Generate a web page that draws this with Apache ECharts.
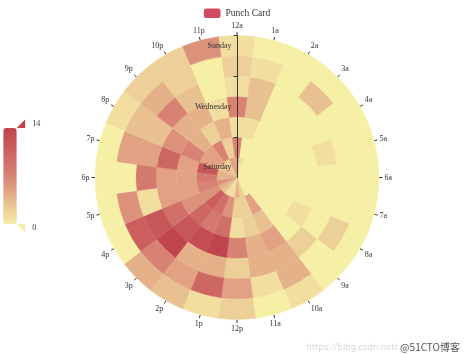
<!DOCTYPE html>
<html>
<head>
<meta charset="utf-8">
<title>Punch Card</title>
<style>
  html, body { margin: 0; padding: 0; background: #fff; }
  #main { width: 474px; height: 355px; }
</style>
<script src="https://cdn.jsdelivr.net/npm/echarts@6/dist/echarts.min.js"></script>
</head>
<body>
<div id="main"></div>
<script>
const hours = [
  '12a', '1a', '2a', '3a', '4a', '5a', '6a',
  '7a', '8a', '9a', '10a', '11a',
  '12p', '1p', '2p', '3p', '4p', '5p',
  '6p', '7p', '8p', '9p', '10p', '11p'
]
const days = [
  'Saturday', 'Friday', 'Thursday',
  'Wednesday', 'Tuesday', 'Monday', 'Sunday'
]
// one row per day (same order as days), one value per hour
const saturday = [5, 1, 0, 0, 0, 0, 0, 0, 0, 0, 0, 2, 4, 1, 1, 3, 4, 6, 4, 4, 3, 3, 2, 5]
const friday = [7, 0, 0, 0, 0, 0, 0, 0, 0, 0, 5, 2, 2, 6, 9, 11, 6, 7, 8, 12, 5, 5, 7, 2]
const thursday = [1, 1, 0, 0, 0, 0, 0, 0, 0, 0, 3, 2, 1, 9, 8, 10, 6, 5, 5, 5, 7, 4, 2, 4]
const wednesday = [7, 3, 0, 0, 0, 0, 0, 0, 1, 0, 5, 4, 7, 14, 13, 12, 9, 5, 5, 10, 6, 4, 4, 1]
const tuesday = [1, 3, 0, 0, 0, 1, 0, 0, 0, 2, 4, 4, 2, 4, 4, 14, 12, 1, 8, 5, 3, 7, 3, 0]
const monday = [2, 1, 0, 3, 0, 0, 0, 0, 2, 0, 4, 1, 5, 10, 5, 7, 11, 6, 0, 5, 3, 4, 2, 0]
const sunday = [1, 0, 0, 0, 0, 0, 0, 0, 0, 0, 1, 0, 2, 1, 3, 4, 0, 0, 0, 0, 1, 2, 2, 6]
const rows = [saturday, friday, thursday, wednesday, tuesday, monday, sunday]
const scaleColors = ['#f6efa6', '#d88273', '#bf444c']

// [day (radius), hour (angle), value]
const cells = []
rows.forEach((row, d) => row.forEach((v, h) => cells.push([d, h, v])))
const maxValue = cells.reduce((m, c) => Math.max(m, c[2]), 0)

const font = '"Liberation Serif", "DejaVu Serif", serif'
// visualMap bar box
const bar = { left: 3.3, top: 128, width: 13.4, height: 96 }
const tri = 8.5

function renderItem (params, api) {
  const values = [api.value(0), api.value(1)]
  const coord = api.coord(values)
  const size = api.size([1, 1], values)
  const color = api.visual('color')
  return {
    type: 'sector',
    shape: {
      cx: params.coordSys.cx,
      cy: params.coordSys.cy,
      r0: coord[2] - size[0] / 2,
      r: coord[2] + size[0] / 2,
      startAngle: -(coord[3] + size[1] / 2),
      endAngle: -(coord[3] - size[1] / 2)
    },
    // thin stroke of the same colour hides the antialias seams
    style: api.style({
      fill: color,
      stroke: color,
      lineWidth: 0.5
    })
  }
}

const chart = echarts.init(document.getElementById('main'))

const bx = bar.left + bar.width
const by0 = bar.top
const by1 = bar.top + bar.height

chart.setOption({
  animation: false,
  textStyle: { fontFamily: font },
  legend: {
    data: ['Punch Card'],
    top: 3.3,
    itemWidth: 16.7,
    itemHeight: 9.4,
    textStyle: { fontSize: 9.5, color: '#333', fontFamily: font }
  },
  polar: { center: ['50%', '50%'], radius: '80%' },
  tooltip: {},
  visualMap: {
    type: 'continuous',
    min: 0,
    max: maxValue,
    left: bar.left,
    top: bar.top,
    itemWidth: bar.width,
    itemHeight: bar.height,
    padding: 0,
    dimension: 2,
    calculable: false,
    inRange: { color: scaleColors },
    textStyle: { fontSize: 8, color: '#333', fontFamily: font }
  },
  angleAxis: {
    type: 'category',
    data: hours,
    boundaryGap: false,
    splitLine: { show: true, lineStyle: { color: '#ddd', type: 'dashed' } },
    axisLine: { show: false, lineStyle: { color: '#333' } },
    axisTick: { length: 3.4, lineStyle: { color: '#333' } },
    axisLabel: { fontSize: 8, color: '#333', margin: 5.4, fontFamily: font }
  },
  radiusAxis: {
    type: 'category',
    data: days,
    z: 100,
    splitLine: { show: false },
    axisLine: { lineStyle: { color: '#333' } },
    axisTick: {
      length: 3.4,
      interval: i => i % 3 === 2,
      lineStyle: { color: '#333' }
    },
    axisLabel: { fontSize: 8, color: '#333', margin: 5.4, interval: 2, fontFamily: font }
  },
  graphic: [
    {
      type: 'polygon',
      shape: { points: [[bx, by0], [bx + tri, by0], [bx + tri, by0 - tri]] },
      style: { fill: scaleColors[2] }
    },
    {
      type: 'polygon',
      shape: { points: [[bx, by1], [bx + tri, by1], [bx + tri, by1 + tri]] },
      style: { fill: scaleColors[0] }
    },
    {
      type: 'text',
      x: bx + tri + 7,
      y: by0 - tri / 2,
      style: { text: String(maxValue), font: '8px ' + font, fill: '#333', verticalAlign: 'middle' }
    },
    {
      type: 'text',
      x: bx + tri + 7,
      y: by1 + tri / 2,
      style: { text: '0', font: '8px ' + font, fill: '#333', verticalAlign: 'middle' }
    },
    {
      type: 'text',
      right: 76,
      bottom: 3,
      style: { text: 'https://blog.csdn.net/', font: '9px "Noto Sans"', fill: '#d8d8d8' }
    },
    {
      type: 'text',
      right: 13,
      bottom: 1.5,
      style: {
        text: '@51CTO博客',
        font: '10px "Noto Sans CJK SC"',
        fill: '#555',
        stroke: '#fff',
        lineWidth: 2
      }
    }
  ],
  series: [{
    name: 'Punch Card',
    type: 'custom',
    coordinateSystem: 'polar',
    itemStyle: { color: '#d14a61' },
    renderItem: renderItem,
    data: cells
  }]
})
</script>
</body>
</html>
